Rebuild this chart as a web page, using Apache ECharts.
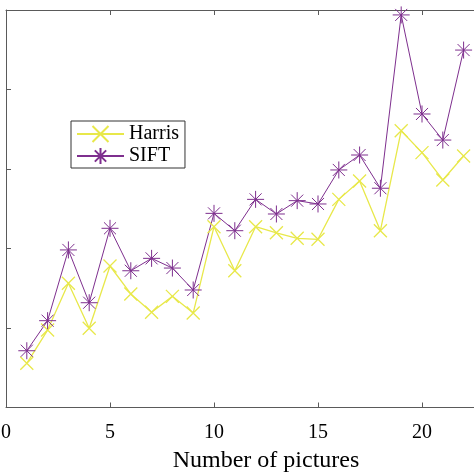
<!DOCTYPE html>
<html>
<head>
<meta charset="utf-8">
<script src="https://cdn.jsdelivr.net/npm/echarts@6/dist/echarts.min.js"></script>
<style>
  html, body { margin: 0; padding: 0; background: #fff; }
  #chart { width: 474px; height: 474px; }
</style>
</head>
<body>
<div id="chart"></div>
<script>
  // picture number 1..22
  var pictures = [1, 2, 3, 4, 5, 6, 7, 8, 9, 10, 11, 12, 13, 14, 15, 16, 17, 18, 19, 20, 21, 22];
  var harris = [27.8, 48.7, 78.1, 49.8, 89.0, 71.4, 59.9, 69.9, 59.4, 113.7, 86.0,
                113.7, 109.9, 106.4, 105.8, 130.9, 142.5, 111.2, 174.1, 160.3, 143.1, 158.2];
  var sift = [35.7, 54.6, 99.1, 65.9, 112.7, 86.0, 93.8, 87.7, 73.9, 122.1, 111.2,
              130.9, 121.7, 130.1, 128.0, 149.4, 158.8, 137.9, 246.9, 184.6, 168.2, 224.8];
  var xTicks = [0, 5, 10, 15, 20, 25];

  var FONT = '"Liberation Serif", "DejaVu Serif", serif';
  var AXIS = '#5a5a5a';
  var crossPath = 'path://M0 0L10 10M10 0L0 10';
  var starPath = 'path://M5 0L5 10M0 5L10 5M1.46 1.46L8.54 8.54M8.54 1.46L1.46 8.54';

  function pairs(ys) {
    return pictures.map(function (x, i) { return [x, ys[i]]; });
  }

  var chart = echarts.init(document.getElementById('chart'));
  chart.setOption({
    animation: false,
    backgroundColor: '#fff',
    grid: { left: 6, top: 10, width: 520, height: 397.5, outerBoundsMode: 'none', containLabel: false },
    legend: {
      orient: 'vertical',
      left: 71, top: 121,
      padding: [3, 6, 2, 5],
      itemGap: 2,
      itemWidth: 47,
      itemHeight: 20,
      borderColor: '#333',
      borderWidth: 1,
      backgroundColor: '#fff',
      selectedMode: false,
      textStyle: { fontFamily: FONT, fontSize: 20, color: '#000', padding: [0, 0, 0, 0] },
      data: ['Harris', 'SIFT']
    },
    xAxis: [{
      type: 'value', min: 0, max: 25, interval: 5,
      name: 'Number of pictures', nameLocation: 'middle', nameGap: 41,
      nameTextStyle: { fontFamily: FONT, fontSize: 24, color: '#000' },
      axisLine: { lineStyle: { color: AXIS } },
      axisTick: { inside: true, length: 5, lineStyle: { color: AXIS } },
      axisLabel: { fontFamily: FONT, fontSize: 20, color: '#000', margin: 15,
        customValues: xTicks, hideOverlap: false },
      splitLine: { show: false }
    }, {
      type: 'value', min: 0, max: 25, interval: 5, position: 'top',
      axisLine: { lineStyle: { color: AXIS } },
      axisTick: { inside: true, length: 5, lineStyle: { color: AXIS } },
      axisLabel: { show: false },
      splitLine: { show: false }
    }],
    yAxis: [{
      type: 'value', min: 0, max: 250, interval: 50,
      axisLine: { show: true, lineStyle: { color: AXIS } },
      axisTick: { show: true, inside: true, length: 5, lineStyle: { color: AXIS } },
      axisLabel: { show: false },
      splitLine: { show: false }
    }],
    series: [{
      name: 'Harris', type: 'line', data: pairs(harris),
      symbol: crossPath, symbolSize: 13, showAllSymbol: true,
      lineStyle: { color: '#e8e84a', width: 1.3 },
      itemStyle: { color: '#e8e84a', borderColor: '#e8e84a', borderWidth: 1.3 }
    }, {
      name: 'SIFT', type: 'line', data: pairs(sift),
      symbol: starPath, symbolSize: 17, showAllSymbol: true,
      lineStyle: { color: '#7e2f8e', width: 1 },
      itemStyle: { color: '#7e2f8e', borderColor: '#7e2f8e', borderWidth: 1 }
    }]
  });
</script>
</body>
</html>
